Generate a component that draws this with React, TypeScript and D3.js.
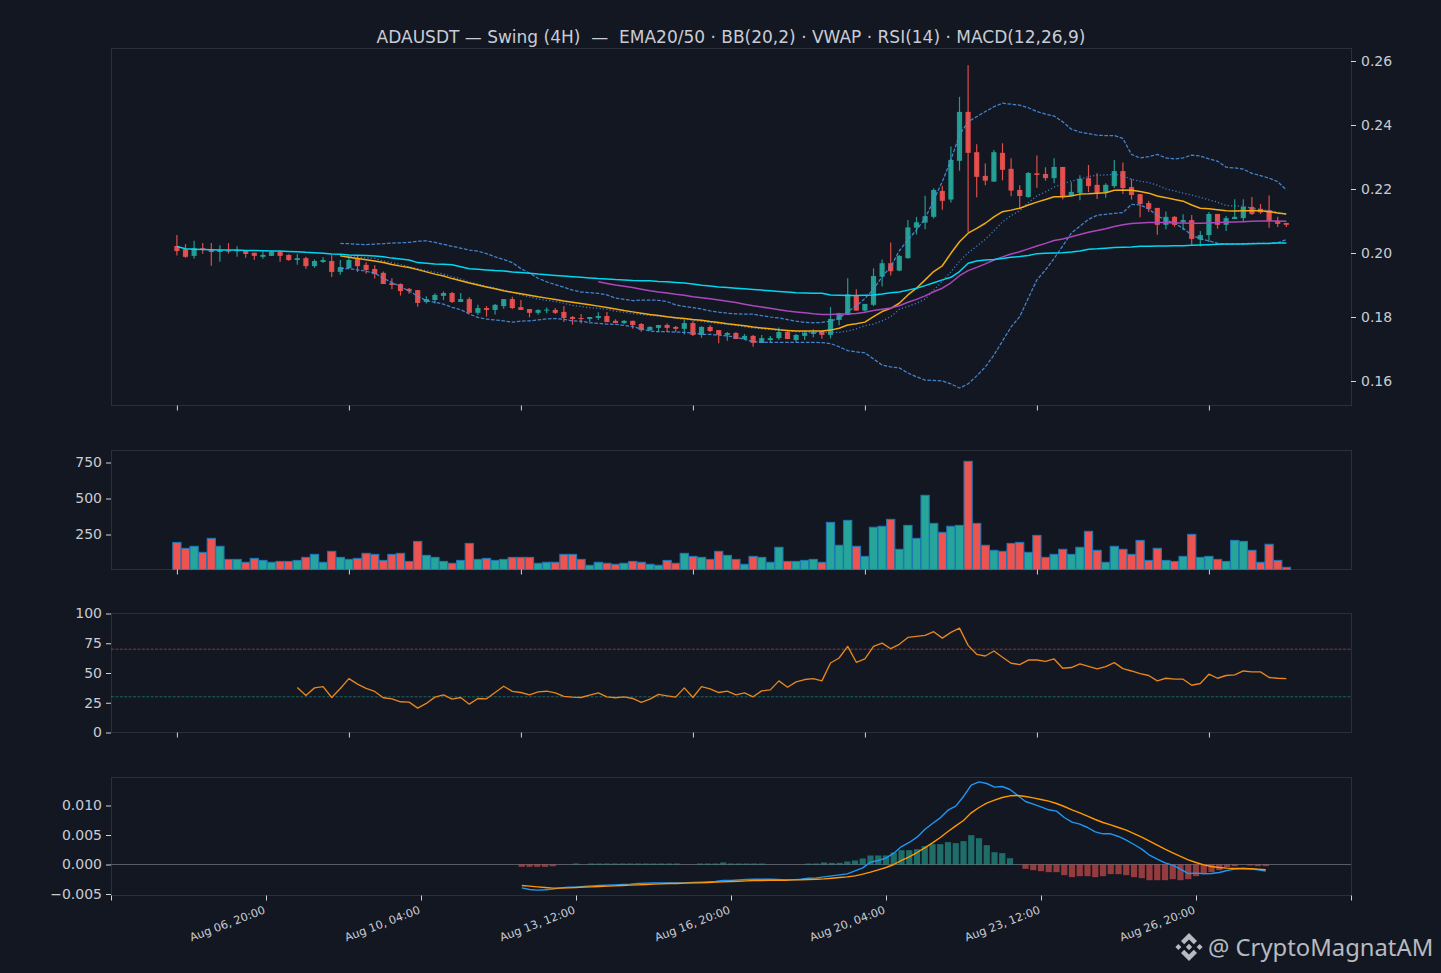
import React, { useEffect, useRef } from 'react';
import * as d3 from 'd3';

const title = 'ADAUSDT \u2014 Swing (4H)  \u2014  EMA20/50 \u00b7 BB(20,2) \u00b7 VWAP \u00b7 RSI(14) \u00b7 MACD(12,26,9)';
const dateLabels = ['Aug 06, 20:00', 'Aug 10, 04:00', 'Aug 13, 12:00', 'Aug 16, 20:00', 'Aug 20, 04:00', 'Aug 23, 12:00', 'Aug 26, 20:00'];

const opens = [
  .2022, .2012, .1991, .2015, .2009, .2003, .2008, .2005, .2007, .2001,
  .1988, .1991, .2004, .1994, .1978, .1984, .1959, .1972, .1975, .1941,
  .1953, .1981, .1963, .1950, .1938, .1906, .1903, .1888, .1884, .1847,
  .1853, .1866, .1875, .1847, .1856, .1813, .1828, .1822, .1834, .1856,
  .1831, .1825, .1813, .1820, .1822, .1816, .1800, .1797, .1794, .1797,
  .1803, .1788, .1781, .1788, .1778, .1759, .1766, .1775, .1769, .1763,
  .1781, .1744, .1769, .1759, .1744, .1750, .1731, .1741, .1719, .1728,
  .1734, .1753, .1728, .1741, .1747, .1756, .1744, .1791, .1806, .1866,
  .1820, .1838, .1926, .1968, .1945, .1984, .2079, .2095, .2113, .2194,
  .2167, .2288, .2441, .2315, .2241, .2223, .2313, .2263, .2197, .2175,
  .2249, .2247, .2234, .2269, .2178, .2188, .2234, .2213, .2188, .2209,
  .2256, .2206, .2184, .2156, .2141, .2088, .2113, .2097, .2103, .2042,
  .2056, .2122, .2088, .2106, .2109, .2144, .2138, .2134, .2100, .2094,
];
const highs = [
  .2056, .2028, .2038, .2031, .2031, .2024, .2031, .2021, .2009, .2001,
  .2005, .2007, .2007, .1996, .1997, .1988, .1980, .1987, .1994, .1978,
  .1991, .1991, .1971, .1962, .1942, .1921, .1905, .1891, .1884, .1865,
  .1874, .1880, .1878, .1875, .1862, .1838, .1834, .1841, .1856, .1863,
  .1853, .1825, .1824, .1830, .1828, .1834, .1803, .1809, .1800, .1815,
  .1816, .1793, .1791, .1788, .1781, .1771, .1775, .1780, .1772, .1791,
  .1788, .1771, .1774, .1759, .1753, .1753, .1747, .1744, .1744, .1741,
  .1767, .1758, .1747, .1756, .1762, .1756, .1831, .1813, .1921, .1887,
  .1841, .1952, .1980, .2033, .1994, .2103, .2113, .2179, .2202, .2209,
  .2333, .2488, .2587, .2340, .2280, .2322, .2343, .2296, .2212, .2253,
  .2305, .2268, .2296, .2269, .2221, .2243, .2275, .2249, .2218, .2291,
  .2283, .2232, .2184, .2163, .2141, .2130, .2116, .2121, .2119, .2069,
  .2128, .2122, .2116, .2168, .2168, .2175, .2153, .2180, .2113, .2094,
];
const lows = [
  .1992, .1985, .1983, .1998, .1960, .1973, .1998, .1988, .1985, .1979,
  .1982, .1991, .1973, .1976, .1963, .1951, .1954, .1969, .1925, .1932,
  .1951, .1941, .1935, .1920, .1903, .1887, .1867, .1873, .1832, .1842,
  .1842, .1853, .1844, .1847, .1813, .1806, .1801, .1808, .1826, .1825,
  .1822, .1799, .1807, .1812, .1809, .1784, .1776, .1780, .1784, .1791,
  .1784, .1781, .1778, .1763, .1754, .1756, .1753, .1753, .1753, .1745,
  .1741, .1735, .1753, .1718, .1726, .1731, .1728, .1707, .1719, .1719,
  .1728, .1731, .1722, .1728, .1737, .1732, .1733, .1774, .1806, .1820,
  .1817, .1834, .1895, .1930, .1943, .1982, .2058, .2074, .2108, .2135,
  .2158, .2257, .2065, .2174, .2212, .2223, .2227, .2177, .2140, .2173,
  .2204, .2226, .2218, .2167, .2178, .2165, .2190, .2169, .2173, .2203,
  .2184, .2167, .2112, .2128, .2057, .2074, .2082, .2071, .2026, .2020,
  .2034, .2076, .2069, .2106, .2097, .2119, .2122, .2079, .2081, .2081,
];
const closes = [
  .2006, .1988, .2015, .2012, .2003, .2009, .2004, .2009, .1997, .1991,
  .1994, .2004, .1991, .1978, .1984, .1959, .1975, .1978, .1941, .1956,
  .1978, .1959, .1947, .1934, .1903, .1900, .1881, .1881, .1844, .1856,
  .1869, .1875, .1847, .1856, .1813, .1828, .1822, .1838, .1856, .1828,
  .1822, .1813, .1822, .1823, .1813, .1797, .1794, .1794, .1800, .1803,
  .1784, .1781, .1788, .1775, .1759, .1769, .1775, .1766, .1763, .1781,
  .1744, .1769, .1756, .1744, .1750, .1731, .1741, .1719, .1734, .1734,
  .1753, .1731, .1744, .1750, .1753, .1744, .1794, .1812, .1871, .1820,
  .1841, .1928, .1968, .1943, .1991, .2080, .2096, .2115, .2197, .2163,
  .2291, .2441, .2313, .2238, .2226, .2315, .2260, .2195, .2178, .2250,
  .2244, .2234, .2269, .2176, .2191, .2232, .2209, .2188, .2213, .2256,
  .2203, .2181, .2153, .2138, .2088, .2113, .2088, .2103, .2044, .2056,
  .2122, .2088, .2109, .2113, .2144, .2122, .2127, .2100, .2091, .2088,
];

const vwap = [
  .2020, .2013, .2012, .2011, .2010, .2009, .2009, .2009, .2008, .2008,
  .2007, .2006, .2006, .2005, .2004, .2002, .2001, .1999, .1997, .1996,
  .1994, .1993, .1992, .1991, .1988, .1984, .1981, .1978, .1970, .1968,
  .1966, .1965, .1963, .1957, .1951, .1949, .1947, .1945, .1944, .1941,
  .1939, .1937, .1934, .1932, .1930, .1928, .1926, .1924, .1922, .1920,
  .1919, .1917, .1916, .1914, .1913, .1913, .1911, .1910, .1908, .1906,
  .1903, .1899, .1897, .1894, .1892, .1890, .1888, .1886, .1884, .1882,
  .1880, .1878, .1876, .1875, .1874, .1874, .1869, .1868, .1867, .1867,
  .1868, .1869, .1872, .1876, .1878, .1884, .1890, .1898, .1907, .1916,
  .1924, .1942, .1968, .1975, .1978, .1980, .1983, .1987, .1989, .1992,
  .1998, .1999, .2000, .2001, .2003, .2006, .2012, .2013, .2015, .2017,
  .2018, .2019, .2021, .2021, .2022, .2022, .2023, .2023, .2024, .2025,
  .2026, .2027, .2028, .2028, .2028, .2029, .2030, .2030, .2031, .2031,
];
const ema20 = [
  .1991, .1987, .1983, .1979, .1975, .1970, .1964, .1959, .1955, .1948,
  .1941, .1934, .1928, .1920, .1913, .1906, .1900, .1894, .1888, .1882,
  .1877, .1873, .1868, .1863, .1859, .1855, .1850, .1846, .1842, .1838,
  .1834, .1830, .1825, .1820, .1816, .1812, .1808, .1805, .1801, .1798,
  .1795, .1792, .1790, .1786, .1783, .1779, .1776, .1773, .1769, .1766,
  .1763, .1760, .1758, .1756, .1756, .1756, .1756, .1759, .1765, .1775,
  .1779, .1784, .1801, .1817, .1827, .1843, .1869, .1890, .1916, .1942,
  .1960, .1999, .2035, .2062, .2077, .2093, .2113, .2129, .2134, .2140,
  .2150, .2159, .2167, .2176, .2176, .2178, .2184, .2185, .2187, .2188,
  .2196, .2197, .2196, .2192, .2187, .2178, .2173, .2167, .2162, .2150,
  .2140, .2138, .2135, .2132, .2131, .2132, .2132, .2132, .2129, .2125,
  .2122,
];
const ema50 = [
  .1910, .1905, .1900, .1896, .1892, .1887, .1882, .1878, .1875, .1871,
  .1868, .1863, .1860, .1857, .1853, .1849, .1845, .1840, .1835, .1831,
  .1827, .1823, .1819, .1816, .1813, .1810, .1808, .1808, .1809, .1809,
  .1811, .1815, .1820, .1824, .1828, .1835, .1846, .1855, .1866, .1879,
  .1890, .1907, .1929, .1945, .1955, .1966, .1978, .1988, .1997, .2004,
  .2013, .2022, .2030, .2039, .2044, .2051, .2058, .2065, .2070, .2076,
  .2083, .2088, .2092, .2094, .2095, .2095, .2095, .2094, .2094, .2093,
  .2093, .2094, .2095, .2096, .2097, .2098, .2099, .2100, .2100, .2100,
  .2099,
];
const bbUpper = [
  .2030, .2029, .2027, .2026, .2028, .2029, .2031, .2032, .2033, .2037,
  .2038, .2033, .2027, .2021, .2015, .2009, .2006, .1998, .1988, .1980,
  .1970, .1951, .1937, .1921, .1910, .1901, .1893, .1884, .1878, .1876,
  .1874, .1869, .1859, .1855, .1851, .1853, .1853, .1852, .1848, .1838,
  .1833, .1829, .1825, .1819, .1815, .1812, .1810, .1809, .1809, .1804,
  .1800, .1797, .1792, .1787, .1783, .1782, .1783, .1787, .1796, .1817,
  .1834, .1858, .1887, .1926, .1957, .2007, .2041, .2072, .2108, .2166,
  .2223, .2291, .2369, .2410, .2426, .2442, .2457, .2468, .2465, .2462,
  .2454, .2442, .2434, .2428, .2410, .2387, .2378, .2373, .2368, .2367,
  .2367, .2358, .2308, .2297, .2301, .2308, .2297, .2294, .2297, .2306,
  .2303, .2294, .2287, .2268, .2266, .2262, .2249, .2242, .2234, .2223,
  .2197,
];
const bbLower = [
  .1952, .1951, .1947, .1943, .1937, .1921, .1908, .1895, .1881, .1865,
  .1851, .1846, .1840, .1830, .1823, .1809, .1799, .1793, .1791, .1788,
  .1784, .1787, .1788, .1791, .1794, .1795, .1793, .1788, .1787, .1782,
  .1780, .1778, .1777, .1774, .1770, .1763, .1756, .1754, .1754, .1753,
  .1752, .1750, .1746, .1746, .1743, .1741, .1737, .1730, .1723, .1721,
  .1721, .1721, .1721, .1721, .1721, .1721, .1720, .1717, .1707, .1695,
  .1691, .1688, .1669, .1650, .1644, .1641, .1625, .1613, .1603, .1602,
  .1600, .1591, .1578, .1591, .1616, .1644, .1681, .1725, .1769, .1801,
  .1859, .1916, .1947, .1983, .2022, .2062, .2084, .2105, .2118, .2121,
  .2124, .2126, .2152, .2150, .2138, .2116, .2103, .2093, .2077, .2056,
  .2044, .2038, .2030, .2028, .2028, .2029, .2030, .2030, .2030, .2032,
  .2042,
];
const bbMid = [
  .1991, .1990, .1987, .1985, .1983, .1975, .1970, .1964, .1957, .1951,
  .1945, .1940, .1934, .1926, .1919, .1909, .1903, .1896, .1890, .1884,
  .1877, .1869, .1863, .1856, .1852, .1848, .1843, .1836, .1833, .1829,
  .1827, .1824, .1818, .1815, .1811, .1808, .1805, .1803, .1801, .1796,
  .1793, .1790, .1786, .1783, .1779, .1777, .1774, .1770, .1766, .1763,
  .1761, .1759, .1757, .1754, .1752, .1752, .1752, .1752, .1752, .1756,
  .1763, .1773, .1778, .1788, .1801, .1824, .1833, .1843, .1856, .1884,
  .1912, .1941, .1974, .2001, .2021, .2043, .2069, .2097, .2117, .2132,
  .2157, .2179, .2191, .2206, .2216, .2225, .2231, .2239, .2243, .2244,
  .2246, .2242, .2230, .2224, .2220, .2212, .2200, .2194, .2187, .2181,
  .2174, .2166, .2159, .2148, .2147, .2146, .2140, .2136, .2132, .2128,
  .2120,
];

const volumes = [
  195, 154, 168, 126, 223, 168, 77, 77, 57, 84,
  70, 57, 63, 63, 70, 91, 112, 57, 133, 91,
  77, 84, 119, 112, 70, 112, 119, 63, 202, 105,
  91, 63, 50, 70, 188, 77, 84, 70, 77, 91,
  91, 91, 50, 57, 57, 112, 112, 77, 36, 57,
  50, 43, 50, 63, 57, 43, 36, 70, 50, 119,
  98, 91, 77, 133, 105, 77, 43, 98, 91, 57,
  161, 63, 63, 70, 77, 57, 334, 175, 348, 168,
  98, 300, 307, 355, 147, 313, 223, 522, 327, 265,
  307, 313, 758, 327, 175, 140, 133, 188, 195, 126,
  244, 91, 112, 147, 112, 161, 272, 140, 57, 168,
  147, 112, 209, 70, 154, 70, 63, 98, 251, 91,
  98, 77, 63, 209, 202, 140, 57, 182, 70, 22,
];

const rsi = [
  37.8, 31.1, 37.5, 38.6, 29.4, 37.0, 45.3, 40.6, 37.0, 34.5,
  29.2, 28.3, 25.8, 25.5, 20.5, 24.4, 29.7, 31.6, 28.0, 29.4,
  23.8, 28.6, 28.3, 33.6, 38.9, 34.5, 33.6, 31.6, 34.1, 34.7,
  33.3, 30.3, 29.7, 29.4, 31.4, 33.3, 30.0, 29.2, 30.0, 28.6,
  25.3, 28.0, 32.0, 30.8, 29.7, 37.5, 29.4, 38.6, 36.7, 33.6,
  34.7, 31.6, 33.3, 30.0, 35.0, 35.8, 43.4, 38.0, 42.5, 44.5,
  45.3, 43.4, 58.4, 62.6, 72.4, 59.0, 61.8, 72.4, 75.1, 70.4,
  74.1, 79.9, 80.8, 81.6, 84.7, 79.3, 84.1, 87.7, 73.2, 65.7,
  64.3, 68.5, 63.2, 58.2, 57.1, 60.9, 60.9, 59.8, 61.8, 54.0,
  54.6, 57.6, 55.6, 53.4, 55.4, 58.7, 53.7, 51.7, 49.5, 47.9,
  43.4, 45.6, 44.8, 44.8, 39.7, 41.2, 49.0, 45.6, 47.9, 48.4,
  51.7, 50.9, 50.9, 46.2, 45.6, 45.3,
];

const macdLine = [
  -.00396, -.00424, -.00435, -.00429, -.00418, -.00396, -.00384, -.00384, -.00373, -.00362,
  -.00356, -.0035, -.00345, -.00339, -.00333, -.00322, -.00316, -.00311, -.00311, -.00311,
  -.00311, -.00311, -.00305, -.00299, -.00294, -.00288, -.00271, -.00271, -.0026, -.00254,
  -.00249, -.00249, -.00249, -.00254, -.0026, -.0026, -.00249, -.00232, -.00226, -.00209,
  -.00192, -.00175, -.00158, -.00107, -.00057, .0004, .00068, .00107, .00192, .00305,
  .00373, .00463, .00593, .00695, .00791, .00921, .00989, .01153, .01345, .01401,
  .01373, .01311, .01322, .01271, .0117, .01068, .01023, .00977, .00927, .00904,
  .00797, .00718, .00684, .00627, .00554, .0052, .0052, .00475, .00412, .00339,
  .0026, .00158, .0009, .00028, -.00011, -.00079, -.00153, -.00147, -.00158, -.00153,
  -.00136, -.00102, -.00079, -.00068, -.00073, -.0009, -.00113,
];
const macdSignal = [
  -.00356, -.00367, -.00379, -.0039, -.00401, -.00401, -.00396, -.0039, -.00384, -.00379,
  -.00373, -.00367, -.00362, -.00356, -.0035, -.00345, -.00339, -.00333, -.00328, -.00322,
  -.00322, -.00316, -.00311, -.00311, -.00305, -.00299, -.00294, -.00288, -.00283, -.00277,
  -.00271, -.00271, -.00266, -.00266, -.00266, -.0026, -.0026, -.00254, -.00249, -.00243,
  -.00232, -.0022, -.00209, -.00192, -.00164, -.0013, -.0009, -.00051, 0, .00068,
  .0013, .00203, .00283, .00367, .00458, .00559, .00655, .00746, .00876, .00966,
  .0104, .0109, .01136, .01164, .0117, .01153, .0113, .01102, .01074, .01034,
  .00983, .00927, .00876, .00819, .00763, .00712, .00672, .00627, .00582, .00525,
  .00463, .00396, .00328, .0026, .00198, .00136, .00079, .00034, -.00006, -.00034,
  -.00051, -.00062, -.00068, -.00068, -.00073, -.00079, -.0009,
];
const macdHist = [
  -.0004, -.0004, -.0004, -.0004, -.0003, 0, 0, .00017, 0, .00017,
  .00017, .00017, .00017, .00017, .00017, .00017, .00017, .00017, .00017, .00017,
  .00017, 0, 0, .00017, .00017, .00017, .00034, .00017, .00017, .00017,
  .00017, .00017, 0, 0, 0, 0, 0, .00017, .00017, .00034,
  .00028, .00028, .00051, .00068, .00102, .00153, .00153, .00153, .00203, .00243,
  .00243, .0026, .00311, .00345, .00345, .00379, .00362, .00396, .00497, .00446,
  .00328, .00209, .00192, .00107, 0, -.00073, -.00096, -.00113, -.0013, -.0013,
  -.00181, -.00215, -.00198, -.00198, -.00215, -.00198, -.00164, -.00164, -.00181, -.00215,
  -.00232, -.00266, -.00266, -.00266, -.00249, -.00266, -.00249, -.00198, -.00147, -.0013,
  -.00096, -.00045, -.00028, 0, -.00017, -.00028, -.00028,
];

const BG = '#121722';
const BORDER = '#2a2f3a';
const TEXT = '#c9ccd4';
const GREEN = '#26a69a';
const RED = '#ef5350';
const FONT = '"DejaVu Sans", sans-serif';

const App = () => {
  const svgRef = useRef(null);

  useEffect(() => {
    const svg = d3.select(svgRef.current);
    svg.selectAll('*').remove();

    const count = closes.length;
    const left = 111;
    const right = 1351;
    const up = (i: number) => closes[i] >= opens[i];

    // the three upper panels share one index axis, the MACD panel has its own
    const x = d3.scaleLinear().domain([-7.605, 136.58]).range([left + 0.5, right + 0.5]);
    const xMacd = d3.scaleLinear().domain([-20, 140]).range([left, right]);
    const tail = (arr: number[]) => count - arr.length;

    const panel = (top: number, bottom: number) => {
      svg.append('rect')
        .attr('x', left + 0.5).attr('y', top)
        .attr('width', right - left).attr('height', bottom - top)
        .attr('fill', BG).attr('stroke', BORDER).attr('stroke-width', 1);
    };

    const styleAxis = (g: any) => {
      g.select('.domain').remove();
      g.selectAll('line').attr('stroke', '#d1d4dc').attr('stroke-width', 1);
      g.selectAll('text').attr('fill', TEXT).attr('font-family', FONT).attr('font-size', 14);
    };

    const bottomTicks = (scale: any, y: number, values: number[]) => {
      const g = svg.append('g')
        .attr('transform', `translate(0,${y})`)
        .call(d3.axisBottom(scale).tickValues(values).tickSize(5).tickFormat(() => ''));
      styleAxis(g);
    };

    const series = (g: any, scaleX: any, scaleY: any, values: number[], color: string, width: number, dash?: string) => {
      const start = tail(values);
      const line = d3.line<number>()
        .x((_, i) => scaleX(start + i))
        .y(d => scaleY(d));
      const path = g.append('path')
        .attr('d', line(values))
        .attr('fill', 'none')
        .attr('stroke', color)
        .attr('stroke-width', width)
        .attr('stroke-linejoin', 'round');
      if (dash) path.attr('stroke-dasharray', dash);
      return path;
    };

    const tickIdx = d3.range(0, 121, 20);

    // price panel
    const mainTop = 48.5;
    const mainBottom = 405.5;
    panel(mainTop, mainBottom);
    const y = d3.scaleLinear().domain([0.2, 0.26]).range([253, 61]);
    const gMain = svg.append('g');
    d3.range(count).forEach(i => {
      const color = up(i) ? GREEN : RED;
      gMain.append('line')
        .attr('x1', x(i)).attr('x2', x(i))
        .attr('y1', y(highs[i])).attr('y2', y(lows[i]))
        .attr('stroke', color).attr('stroke-width', 1.2).attr('opacity', 0.92);
      const a = y(Math.max(opens[i], closes[i]));
      const b = y(Math.min(opens[i], closes[i]));
      gMain.append('rect')
        .attr('x', x(i) - 2.6).attr('width', 5.2)
        .attr('y', a).attr('height', Math.max(b - a, 1))
        .attr('fill', color).attr('opacity', 0.92);
    });
    series(gMain, x, y, bbUpper, '#4a90e2', 1.25, '3.6,1.6').attr('opacity', 0.9);
    series(gMain, x, y, bbLower, '#4a90e2', 1.25, '3.6,1.6').attr('opacity', 0.9);
    series(gMain, x, y, bbMid, '#4a90e2', 1.25, '1.2,2.2').attr('opacity', 0.85);
    series(gMain, x, y, ema20, '#f0ac14', 1.5);
    series(gMain, x, y, ema50, '#ab47bc', 1.5);
    series(gMain, x, y, vwap, '#00d8f0', 1.5);

    const gPriceAxis = svg.append('g')
      .attr('transform', `translate(${right},0)`)
      .call(d3.axisRight(y).tickValues([0.16, 0.18, 0.2, 0.22, 0.24, 0.26]).tickSize(5).tickPadding(5).tickFormat(d3.format('.2f')));
    styleAxis(gPriceAxis);
    bottomTicks(x, mainBottom, tickIdx);

    // volume panel
    const volTop = 450.5;
    const volBottom = 569.5;
    panel(volTop, volBottom);
    const yVol = d3.scaleLinear().domain([250, 750]).range([534.5, 462.5]);
    const gVol = svg.append('g');
    gVol.selectAll('rect')
      .data(volumes)
      .enter().append('rect')
      .attr('x', (_, i) => x(i) - 4.1)
      .attr('width', 8.2)
      .attr('y', d => yVol(d))
      .attr('height', d => volBottom - yVol(d))
      .attr('fill', (_, i) => (up(i) ? GREEN : RED))
      .attr('stroke', '#1f77b4')
      .attr('stroke-width', 1.1);
    const gVolAxis = svg.append('g')
      .attr('transform', `translate(${left},0)`)
      .call(d3.axisLeft(yVol).tickValues([250, 500, 750]).tickSize(5).tickPadding(4));
    styleAxis(gVolAxis);
    bottomTicks(x, volBottom, tickIdx);

    // RSI panel
    const rsiTop = 613.5;
    const rsiBottom = 732.5;
    panel(rsiTop, rsiBottom);
    const yRsi = d3.scaleLinear().domain([0, 100]).range([rsiBottom, rsiTop]);
    const gRsi = svg.append('g');
    const guide = (v: number, color: string) => {
      gRsi.append('line')
        .attr('x1', left).attr('x2', right)
        .attr('y1', yRsi(v)).attr('y2', yRsi(v))
        .attr('stroke', color).attr('stroke-width', 1)
        .attr('stroke-dasharray', '3,1.4').attr('opacity', 0.55);
    };
    guide(70, RED);
    guide(30, GREEN);
    series(gRsi, x, yRsi, rsi, '#e8851c', 1.35);
    const gRsiAxis = svg.append('g')
      .attr('transform', `translate(${left},0)`)
      .call(d3.axisLeft(yRsi).tickValues([0, 25, 50, 75, 100]).tickSize(5).tickPadding(4));
    styleAxis(gRsiAxis);
    bottomTicks(x, rsiBottom, tickIdx);

    // MACD panel
    const macdTop = 777.5;
    const macdBottom = 895.5;
    panel(macdTop, macdBottom);
    const yMacd = d3.scaleLinear().domain([0, 0.01]).range([864.5, 805.5]);
    const gMacd = svg.append('g');
    gMacd.append('line')
      .attr('x1', left).attr('x2', right)
      .attr('y1', yMacd(0)).attr('y2', yMacd(0))
      .attr('stroke', '#565b66').attr('stroke-width', 1);
    const histStart = tail(macdHist);
    gMacd.selectAll('rect')
      .data(macdHist)
      .enter().append('rect')
      .attr('x', (_, i) => xMacd(histStart + i) - 3.1)
      .attr('width', 6.2)
      .attr('y', d => Math.min(yMacd(d), yMacd(0)))
      .attr('height', d => Math.abs(yMacd(d) - yMacd(0)))
      .attr('fill', d => (d >= 0 ? GREEN : RED))
      .attr('opacity', 0.6);
    series(gMacd, xMacd, yMacd, macdLine, '#2196f3', 1.4);
    series(gMacd, xMacd, yMacd, macdSignal, '#ff9800', 1.4);
    const gMacdAxis = svg.append('g')
      .attr('transform', `translate(${left},0)`)
      .call(d3.axisLeft(yMacd).tickValues([-0.005, 0, 0.005, 0.01]).tickSize(5).tickPadding(4).tickFormat(d3.format('.3f')));
    styleAxis(gMacdAxis);
    bottomTicks(xMacd, macdBottom, d3.range(-20, 141, 20));

    dateLabels.forEach((label, i) => {
      const px = xMacd(i * 20);
      svg.append('text')
        .attr('transform', `translate(${px},${913}) rotate(-21)`)
        .attr('text-anchor', 'end')
        .attr('fill', TEXT)
        .attr('font-family', FONT)
        .attr('font-size', 11.3)
        .text(label);
    });

    svg.append('text')
      .attr('x', 731).attr('y', 43)
      .attr('text-anchor', 'middle')
      .attr('xml:space', 'preserve')
      .style('white-space', 'pre')
      .attr('fill', TEXT)
      .attr('font-family', FONT)
      .attr('font-size', 17)
      .text(title);

    // watermark
    const logo = svg.append('g')
      .attr('transform', 'translate(1189,947)')
      .attr('fill', '#c9ccd2')
      .attr('opacity', 0.9);
    logo.append('path').attr('d', 'M0,-14 L8,-6 L4.8,-2.8 L0,-7.6 L-4.8,-2.8 L-8,-6 Z');
    logo.append('path').attr('d', 'M0,14 L8,6 L4.8,2.8 L0,7.6 L-4.8,2.8 L-8,6 Z');
    logo.append('path').attr('d', 'M0,-3.2 L3.2,0 L0,3.2 L-3.2,0 Z');
    logo.append('path').attr('d', 'M-10.6,-3 L-7.6,0 L-10.6,3 L-13.6,0 Z');
    logo.append('path').attr('d', 'M10.6,-3 L13.6,0 L10.6,3 L7.6,0 Z');
    svg.append('text')
      .attr('x', 1208).attr('y', 956)
      .attr('fill', '#c9ccd2')
      .attr('opacity', 0.9)
      .attr('font-family', '"Noto Sans", sans-serif')
      .attr('font-size', 23.8)
      .text('@ CryptoMagnatAM');
  }, []);

  return (
    <svg
      ref={svgRef}
      width="1441"
      height="973"
      style={{ position: 'absolute', left: 0, top: 0, display: 'block', background: BG }}
    ></svg>
  );
};

export default App;
